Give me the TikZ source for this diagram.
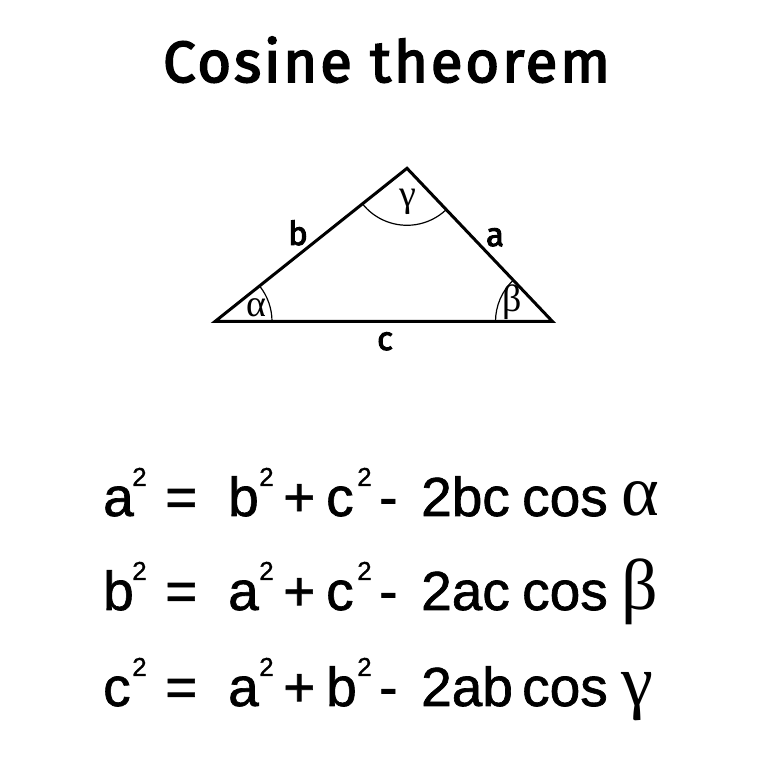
\documentclass[tikz,border=0pt]{standalone}
\usepackage{fontspec}
\setmainfont{Liberation Sans}[FakeBold=1.2]
\newfontfamily\dinfont{Fira Sans}[FakeBold=3, LetterSpace=5]
\newfontfamily\dinlab{Fira Sans}[FakeBold=3]
\newfontfamily\grk{Liberation Serif}
\usetikzlibrary{angles}
\tikzset{
 formula/.style={anchor=base west, inner sep=0pt, font=\fontsize{55}{60}\selectfont},
 supx/.style={anchor=base west, inner sep=0pt, font=\fontsize{26}{28}\selectfont},
 grkf/.style={anchor=base west, inner sep=0pt, font=\grk\fontsize{72}{76}\selectfont},
 side/.style={anchor=base, inner sep=0pt, font=\dinlab\fontsize{33}{35}\selectfont},
 anglab/.style={anchor=base, inner sep=0pt, font=\grk\fontsize{38}{40}\selectfont},
 tri/.style={line width=3pt, line join=miter},
 arcs/.style={draw, line width=1.2pt, angle radius=57pt}
}
\begin{document}
\begin{tikzpicture}[x=1pt,y=1pt]
\useasboundingbox[fill=white] (0,0) rectangle (768,768);
% title
\node[anchor=base, inner sep=0pt, font=\dinfont\fontsize{58}{60}\selectfont] (title) at (386.5,686) {Cosine theorem};
% triangle
\coordinate (A) at (215,446.5);
\coordinate (B) at (552.5,446.5);
\coordinate (C) at (407,599.7);
\draw[tri] (A) -- (B) -- (C) -- cycle;
\pic[arcs] {angle=B--A--C};
\pic[arcs] {angle=C--B--A};
\pic[arcs] {angle=A--C--B};
\node[side] (lb) at (298,523) {b};
\node[side] (la) at (495,522) {a};
\node[side] (lc) at (385,418) {c};
\node[anglab] (lal) at (256,451) {α};
\node[anglab] (lbe) at (512,456) {β};
\node[anglab] (lga) at (408,561) {γ};
% formulas
\foreach \i/\y/\p/\q/\r/\t/\g in {1/252/a/b/c/2bc/α, 2/158/b/a/c/2ac/β, 3/62/c/a/b/2ab/γ}{
  \node[formula] (v1\i) at (103,\y) {\p};
  \node[supx] (s1\i) at (132,\y+30) {2};
  \node[formula] (eq\i) at (165,\y) {=};
  \node[formula] (v2\i) at (228,\y) {\q};
  \node[supx] (s2\i) at (259,\y+30) {2};
  \node[formula] (pl\i) at (283,\y) {+};
  \node[formula] (v3\i) at (326,\y) {\r};
  \node[supx] (s3\i) at (357,\y+30) {2};
  \node[formula] (mi\i) at (379,\y) {-};
  \node[formula] (tm\i) at (421,\y) {\t};
  \node[formula] (cs\i) at (522,\y) {cos};
  \node[grkf] (gr\i) at (621,\y) {\g};
}
\end{tikzpicture}
\end{document}
